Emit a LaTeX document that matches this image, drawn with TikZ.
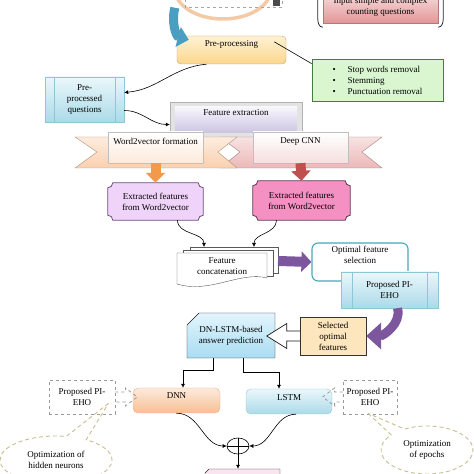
\documentclass[tikz,border=0pt]{standalone}
\usepackage{fontspec}
\setmainfont{Liberation Serif}
\usetikzlibrary{arrows.meta,positioning,shapes.geometric,shapes.misc,shapes.callouts,backgrounds}
\definecolor{ring}{HTML}{F4C9A6}
\definecolor{inputtop}{HTML}{F9E4E4}
\definecolor{inputbot}{HTML}{E39597}
\definecolor{tealarr}{HTML}{4A9EC2}
\definecolor{pretop}{HTML}{FEF2D4}
\definecolor{prebot}{HTML}{FBD68C}
\definecolor{preline}{HTML}{C9A15E}
\definecolor{stepfill}{HTML}{D9F6D1}
\definecolor{stepline}{HTML}{3F7F3F}
\definecolor{pqtop}{HTML}{EAF7FB}
\definecolor{pqbot}{HTML}{ABDAE8}
\definecolor{pqline}{HTML}{8EC6D8}
\definecolor{fetop}{HTML}{F8F6FC}
\definecolor{febot}{HTML}{CCC5E2}
\definecolor{w2vrib}{HTML}{FAD0AE}
\definecolor{cnnrib}{HTML}{ECB8B8}
\definecolor{arrorange}{HTML}{F39A4A}
\definecolor{arrred}{HTML}{C0504D}
\definecolor{extone}{HTML}{EFD3F8}
\definecolor{extoneline}{HTML}{6F4A80}
\definecolor{exttwo}{HTML}{F490C2}
\definecolor{exttwoline}{HTML}{5A3A50}
\definecolor{purp}{HTML}{7C579D}
\definecolor{ofsline}{HTML}{4AA7B8}
\definecolor{selfill}{HTML}{FDE6BD}
\definecolor{dnltop}{HTML}{E2F5FD}
\definecolor{dnlbot}{HTML}{A9DCF2}
\definecolor{dnntop}{HTML}{FDEBDC}
\definecolor{dnnbot}{HTML}{F6BF94}
\definecolor{dnnline}{HTML}{EFB089}
\definecolor{khaki}{HTML}{C8BF90}
\definecolor{finfill}{HTML}{FBE4EE}

\newcommand\plaquebox[2]{%
  \draw[#2] ([xshift=5pt]#1.north west) -- ([xshift=-5pt]#1.north east)
    arc[start angle=180,end angle=270,radius=5pt] -- ([yshift=5pt]#1.south east)
    arc[start angle=90,end angle=180,radius=5pt] -- ([xshift=5pt]#1.south west)
    arc[start angle=0,end angle=90,radius=5pt] -- ([yshift=-5pt]#1.north west)
    arc[start angle=270,end angle=360,radius=5pt] -- cycle;}

\begin{document}
\begin{tikzpicture}[x=1pt,y=1pt,font=\fontsize{9}{11}\selectfont,
    box/.style={align=center,inner sep=2pt},
    txt/.style={align=center,inner sep=0pt},
    ppbox/.style={box,draw=pqline,top color=pqtop,bottom color=pqbot},
    conn/.style={-{Latex[length=4pt,width=4pt]},line width=0.6pt},
    fatarr/.style={line width=#1},
    dashbox/.style={box,draw=gray!80,dashed,line width=0.8pt},
    callbox/.style={ellipse callout,draw=khaki,line width=0.9pt,dash pattern=on 4pt off 3pt,
      align=center,inner sep=0pt,callout pointer arc=22}]
    \useasboundingbox (0,0) rectangle (474,474);
    \clip (0,0) rectangle (474,474);

    % input
    \node[ellipse,draw=ring,line width=3.5pt,minimum width=96,minimum height=60] (data) at (223,485) {};
    \draw[dashed,gray!70] (185,481) -- (185,467) -- (282,467) -- (282,481);
    \fill[gray!60!black] (273,468) rectangle (280,474);
    \node[box,draw=inputbot!80!black,top color=inputtop,bottom color=inputbot,
      minimum width=115,minimum height=33] (input) at (380.5,467.5) {Input simple and complex\\counting questions};
    \draw[gray!30!black,thick] ([xshift=-5pt]input.north west) -- ([xshift=-5pt,yshift=4pt]input.south west)
      to[out=-90,in=180] ([yshift=-4pt]input.south west);
    \draw[gray!30!black,thick] ([xshift=5pt]input.north east) -- ([xshift=5pt,yshift=4pt]input.south east)
      to[out=-90,in=0] ([yshift=-4pt]input.south east);

    % pre-processing
    \node[box,draw=preline,rounded corners=4pt,top color=pretop,bottom color=prebot,
      minimum width=109,minimum height=28] (pre) at (231.5,424) {};
    \node[txt,below=5pt of pre.north] (pretxt) {Pre-processing};
    \draw[fatarr=9pt,tealarr,-{Triangle[width=20pt,length=11pt]}] ([xshift=-8pt]data.205)
      to[out=-105,in=165] ([shift={(12pt,-4pt)}]pre.north west);

    \node[box,draw=stepline,fill=stepfill,line width=0.8pt,align=left,
      minimum width=131,minimum height=42] (steps) at (377.5,394)
      {\textbullet\hspace{12pt}Stop words removal\\ \textbullet\hspace{12pt}Stemming\\ \textbullet\hspace{12pt}Punctuation removal};
    \draw[line width=0.6pt] ([shift={(-12pt,-6pt)}]pre.north east) -- ([yshift=-5pt]steps.north west);

    \node[ppbox,minimum width=79,minimum height=45] (ppq) at (84.5,374.5) {Pre-\\processed\\questions};
    \draw[pqline] ([xshift=9pt]ppq.north west) -- ([xshift=9pt]ppq.south west)
      ([xshift=-9pt]ppq.north east) -- ([xshift=-9pt]ppq.south east);
    \draw[conn] ([xshift=-25pt]pre.south) to[out=185,in=5] ([yshift=7pt]ppq.east);

    % feature extraction
    \node[box,draw=gray!60,fill=gray!22,minimum width=132,minimum height=35] (fe) at (236,354.5) {};
    \fill[top color=fetop,bottom color=febot] ([shift={(5pt,-5pt)}]fe.north west) rectangle ([shift={(-5pt,5pt)}]fe.south east);
    \node[txt,below=8pt of fe.north] (fetxt) {Feature extraction};
    \draw[conn] ([yshift=-11pt]ppq.east) to[out=0,in=180] ([yshift=-5pt]fe.west);

    \draw[draw=cnnrib!70!black,top color=cnnrib!40,bottom color=cnnrib] (220,337) -- (382,337) -- (362,322)
      -- (382,306) -- (220,306) -- (240,322) -- cycle;
    \draw[draw=w2vrib!70!black,top color=w2vrib!40,bottom color=w2vrib] (75,337) -- (237,337) -- (218,322)
      -- (237,306) -- (75,306) -- (97,322) -- cycle;
    \node[box,draw=gray!50,top color=white,bottom color=w2vrib!45,minimum width=95,minimum height=31] (w2v) at (155.5,326.5) {};
    \node[txt,below=6pt of w2v.north] (w2vtxt) {Word2vector formation};
    \node[box,draw=gray!50,top color=white,bottom color=cnnrib!45,minimum width=95,minimum height=31] (cnn) at (300.5,326.5) {};
    \node[txt,below=6pt of cnn.north] (cnntxt) {Deep CNN};

    \node[box,minimum width=95,minimum height=37] (ext1) at (155.5,272.5) {Extracted features\\from Word2vector};
    \node[box,minimum width=97,minimum height=39] (ext2) at (301.5,273.5) {Extracted features\\from Word2vector};
    \draw[fatarr=10pt,arrorange,-{Triangle[width=19pt,length=10pt]}] (w2v.south) -- (ext1.north);
    \draw[fatarr=10pt,arrred,-{Triangle[width=19pt,length=10pt]}] (cnn.south) -- (ext2.north);

    % concatenation
    \node[txt,minimum width=90,minimum height=32] (concat) at (222,207.5) {Feature\\concatenation};
    \coordinate (cin1) at (204,227);
    \coordinate (cin2) at (254,227);
    \coordinate (cout) at (278,213);
    \begin{scope}[on background layer]
      \plaquebox{ext1}{fill=extone,draw=extoneline,line width=0.8pt}
      \plaquebox{ext2}{fill=exttwo,draw=exttwoline,line width=0.8pt}
      \draw[gray!70!black,fill=white] (190,227) rectangle (278,201);
      \draw[gray!70!black,fill=white] (183,224) rectangle (273,198);
      \draw[gray!70!black,fill=white] (177,221) -- (267,221) -- (267,196)
        .. controls (240,203) and (210,180) .. (177,190) -- cycle;
    \end{scope}
    \draw[conn] ([xshift=22pt]ext1.south) to[out=-90,in=90] (cin1);
    \draw[conn] ([xshift=-25pt]ext2.south) to[out=-90,in=90] (cin2);

    % optimal feature selection
    \node[box,draw=ofsline,line width=1.1pt,rounded corners=6pt,fill=white,
      minimum width=96,minimum height=38] (ofs) at (360,212) {};
    \node[txt,below=4pt of ofs.north] (ofstxt) {Optimal feature\\selection};
    \draw[fatarr=10pt,purp,-{Triangle[width=20pt,length=10pt]}] (cout) -- (ofs.west);
    \node[ppbox,minimum width=97,minimum height=36] (pi1) at (389.5,184) {Proposed PI-\\EHO};
    \draw[pqline] ([xshift=11pt]pi1.north west) -- ([xshift=11pt]pi1.south west)
      ([xshift=-11pt]pi1.north east) -- ([xshift=-11pt]pi1.south east);

    \node[box,draw=gray!40!black,fill=selfill,minimum width=66,minimum height=38] (sel) at (333,138) {Selected\\optimal\\features};
    \draw[fatarr=9pt,purp,-{Triangle[width=26pt,length=15pt]}] ([xshift=8pt]pi1.south) to[out=-75,in=0] (sel.east);

    % prediction
    \node[box,chamfered rectangle,chamfered rectangle corners=north west,chamfered rectangle sep=6pt,
      draw=gray!20!black,top color=dnltop,bottom color=dnlbot,minimum width=88,minimum height=45] (dnl) at (231,138.5)
      {DN-LSTM-based\\answer prediction};
    \draw[gray!20!black,fill=white,line width=0.7pt] ([yshift=5pt]sel.west) -- ++(-13,0) -- ++(0,7.5) -- ++(-20,-12.5)
      -- ++(20,-12.5) -- ++(0,7.5) -- ++(13,0);

    \node[box,draw=dnnline,rounded corners=5pt,top color=dnntop,bottom color=dnnbot,
      minimum width=87,minimum height=25] (dnn) at (176.5,73.5) {};
    \node[txt,below=5pt of dnn.north] (dnntxt) {DNN};
    \node[box,draw=pqline,rounded corners=5pt,top color=pqtop,bottom color=pqbot,
      minimum width=86,minimum height=25] (lstm) at (289,72.5) {};
    \node[txt,below=6pt of lstm.north] (lstmtxt) {LSTM};
    \draw[conn] ([xshift=-18pt]dnl.south) -- ++(0,-12) -| ([xshift=6.5pt]dnn.north);
    \draw[conn] ([xshift=12pt]dnl.south) -- ++(0,-14) -| ([xshift=-10pt]lstm.north);

    \node[dashbox,minimum width=66,minimum height=34] (pl) at (82,77) {Proposed PI-\\EHO};
    \node[dashbox,minimum width=54,minimum height=34] (pr) at (370,77) {Proposed PI-\\EHO};
    \draw[gray!80,dashed,line width=0.8pt] ([yshift=5pt]pl.east) -- ++(10,0) -- ++(0,4) -- ++(12,-9)
      -- ++(-12,-9) -- ++(0,4) -- ++(-10,0);
    \draw[gray!80,dashed,line width=0.8pt] ([yshift=5pt]pr.west) -- ++(-8,0) -- ++(0,4) -- ++(-12,-9)
      -- ++(12,-9) -- ++(0,4) -- ++(8,0);

    \node[callbox,minimum width=112,minimum height=48,
      callout absolute pointer={([shift={(-7pt,11pt)}]pl.south east)}] (optl) at (56,14) {Optimization of\\hidden neurons};
    \node[callbox,minimum width=92,minimum height=48,
      callout absolute pointer={([shift={(-2pt,1pt)}]pr.south)}] (optr) at (427,24) {Optimization\\of epochs};

    % output
    \node[ellipse,draw,line width=0.6pt,minimum width=22,minimum height=16,inner sep=0pt] (op) at (238,28) {};
    \draw[line width=0.6pt] (op.north) -- (op.south) (op.west) -- (op.east);
    \draw[conn] (dnn.south) to[out=0,in=180] (op.west);
    \draw[conn] ([xshift=7pt]lstm.south) to[out=180,in=0] (op.east);
    \node[box,chamfered rectangle,chamfered rectangle corners=north west,chamfered rectangle sep=5pt,
      draw=gray!30!black,fill=finfill,minimum width=75,minimum height=30] (fin) at (242.5,-10) {};
    \draw[conn] (op.south) -- (op.south |- fin.north);
\end{tikzpicture}
\end{document}
